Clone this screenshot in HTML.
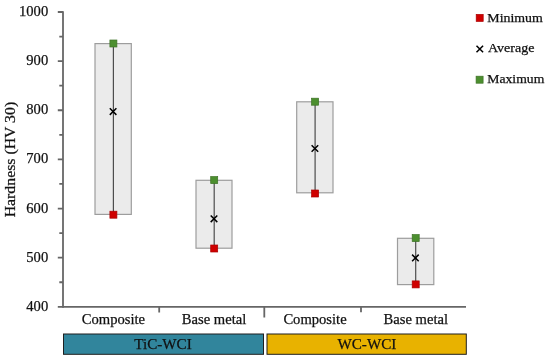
<!DOCTYPE html>
<html>
<head>
<meta charset="utf-8">
<style>
html,body{margin:0;padding:0;background:#fff;}
body{width:550px;height:362px;overflow:hidden;position:relative;}
svg{position:absolute;left:0;top:0;display:block;}
text{font-family:"Liberation Serif",serif;fill:#111;stroke:#111;stroke-width:0.25px;}
</style>
</head>
<body>
<svg width="550" height="362" viewBox="0 0 550 362">
  <g fill="#ebebeb" stroke="#9d9d9d" stroke-width="1.2">
    <rect x="95.0" y="43.6" width="36.30" height="170.80"/>
    <rect x="196.0" y="180.3" width="36.00" height="67.90"/>
    <rect x="296.7" y="101.8" width="36.30" height="91.00"/>
    <rect x="397.5" y="238.3" width="36.30" height="46.30"/>
  </g>
  <g stroke="#4d4d4d" stroke-width="1.2">
    <line x1="113.4" y1="43.5" x2="113.4" y2="214.7"/>
    <line x1="214.2" y1="180.1" x2="214.2" y2="248.5"/>
    <line x1="315.1" y1="101.7" x2="315.1" y2="193.5"/>
    <line x1="415.7" y1="238.1" x2="415.7" y2="284.4"/>
  </g>
  <g fill="#cf0000" stroke="#aa0000" stroke-width="0.7">
    <rect x="109.90" y="211.20" width="7.0" height="7.0"/>
    <rect x="210.70" y="245.00" width="7.0" height="7.0"/>
    <rect x="311.60" y="190.00" width="7.0" height="7.0"/>
    <rect x="412.20" y="280.90" width="7.0" height="7.0"/>
    <rect x="476.20" y="14.40" width="7.0" height="7.0"/>
  </g>
  <g fill="#4c8f2f" stroke="#3d7226" stroke-width="0.7">
    <rect x="109.90" y="40.00" width="7.0" height="7.0"/>
    <rect x="210.70" y="176.60" width="7.0" height="7.0"/>
    <rect x="311.60" y="98.20" width="7.0" height="7.0"/>
    <rect x="412.20" y="234.60" width="7.0" height="7.0"/>
    <rect x="476.10" y="76.20" width="7.0" height="7.0"/>
  </g>
  <g stroke="#000" stroke-width="1.5" fill="none">
    <path d="M109.80 108.30 L116.40 114.90 M116.40 108.30 L109.80 114.90"/>
    <path d="M210.70 215.50 L217.30 222.10 M217.30 215.50 L210.70 222.10"/>
    <path d="M311.60 145.20 L318.20 151.80 M318.20 145.20 L311.60 151.80"/>
    <path d="M412.10 254.60 L418.70 261.20 M418.70 254.60 L412.10 261.20"/>
    <path d="M476.50 45.70 L483.10 52.30 M483.10 45.70 L476.50 52.30"/>
  </g>
  <g stroke="#666" stroke-width="1.8" fill="none">
    <line x1="63" y1="11.2" x2="63" y2="307.8"/>
    <line x1="57.8" y1="306.9" x2="466" y2="306.9"/>
    <path d="M57.8 12.00 H63 M57.8 61.13 H63 M57.8 110.27 H63 M57.8 159.40 H63 M57.8 208.53 H63 M57.8 257.67 H63"/>
    <path d="M59.3 36.57 H63 M59.3 85.70 H63 M59.3 134.83 H63 M59.3 183.97 H63 M59.3 233.10 H63 M59.3 282.23 H63"/>
    <path d="M159.2 307 V312.6 M264.3 307 V317.5 M361 307 V312.3"/>
  </g>
  <g font-size="14.6" text-anchor="end">
    <text x="48.2" y="16.00">1000</text>
    <text x="48.2" y="65.13">900</text>
    <text x="48.2" y="114.27">800</text>
    <text x="48.2" y="163.40">700</text>
    <text x="48.2" y="212.53">600</text>
    <text x="48.2" y="261.67">500</text>
    <text x="48.2" y="310.80">400</text>
  </g>
  <text font-size="15" text-anchor="middle" textLength="115.5" lengthAdjust="spacingAndGlyphs" transform="translate(15.0,159.6) rotate(-90)">Hardness (HV 30)</text>
  <g font-size="14.6" text-anchor="middle">
    <text x="113.4" y="323.9">Composite</text>
    <text x="214" y="323.9">Base metal</text>
    <text x="315" y="323.9">Composite</text>
    <text x="415.8" y="323.9">Base metal</text>
  </g>
  <rect x="63.5" y="334" width="200" height="20.3" fill="#31859c" stroke="#1f1f1f" stroke-width="1"/>
  <rect x="267" y="334" width="199.3" height="20.3" fill="#e8b200" stroke="#1f1f1f" stroke-width="1"/>
  <g font-size="14.8" text-anchor="middle">
    <text x="163" y="348.9" textLength="57.4" lengthAdjust="spacingAndGlyphs">TiC-WCI</text>
    <text x="366.9" y="348.9" textLength="59" lengthAdjust="spacingAndGlyphs">WC-WCI</text>
  </g>
  <g font-size="13">
    <text x="487.3" y="21.5" textLength="55.5" lengthAdjust="spacingAndGlyphs">Minimum</text>
    <text x="488" y="52.1" textLength="46.5" lengthAdjust="spacingAndGlyphs">Average</text>
    <text x="487.3" y="83.1" textLength="57" lengthAdjust="spacingAndGlyphs">Maximum</text>
  </g>
</svg>
</body>
</html>
